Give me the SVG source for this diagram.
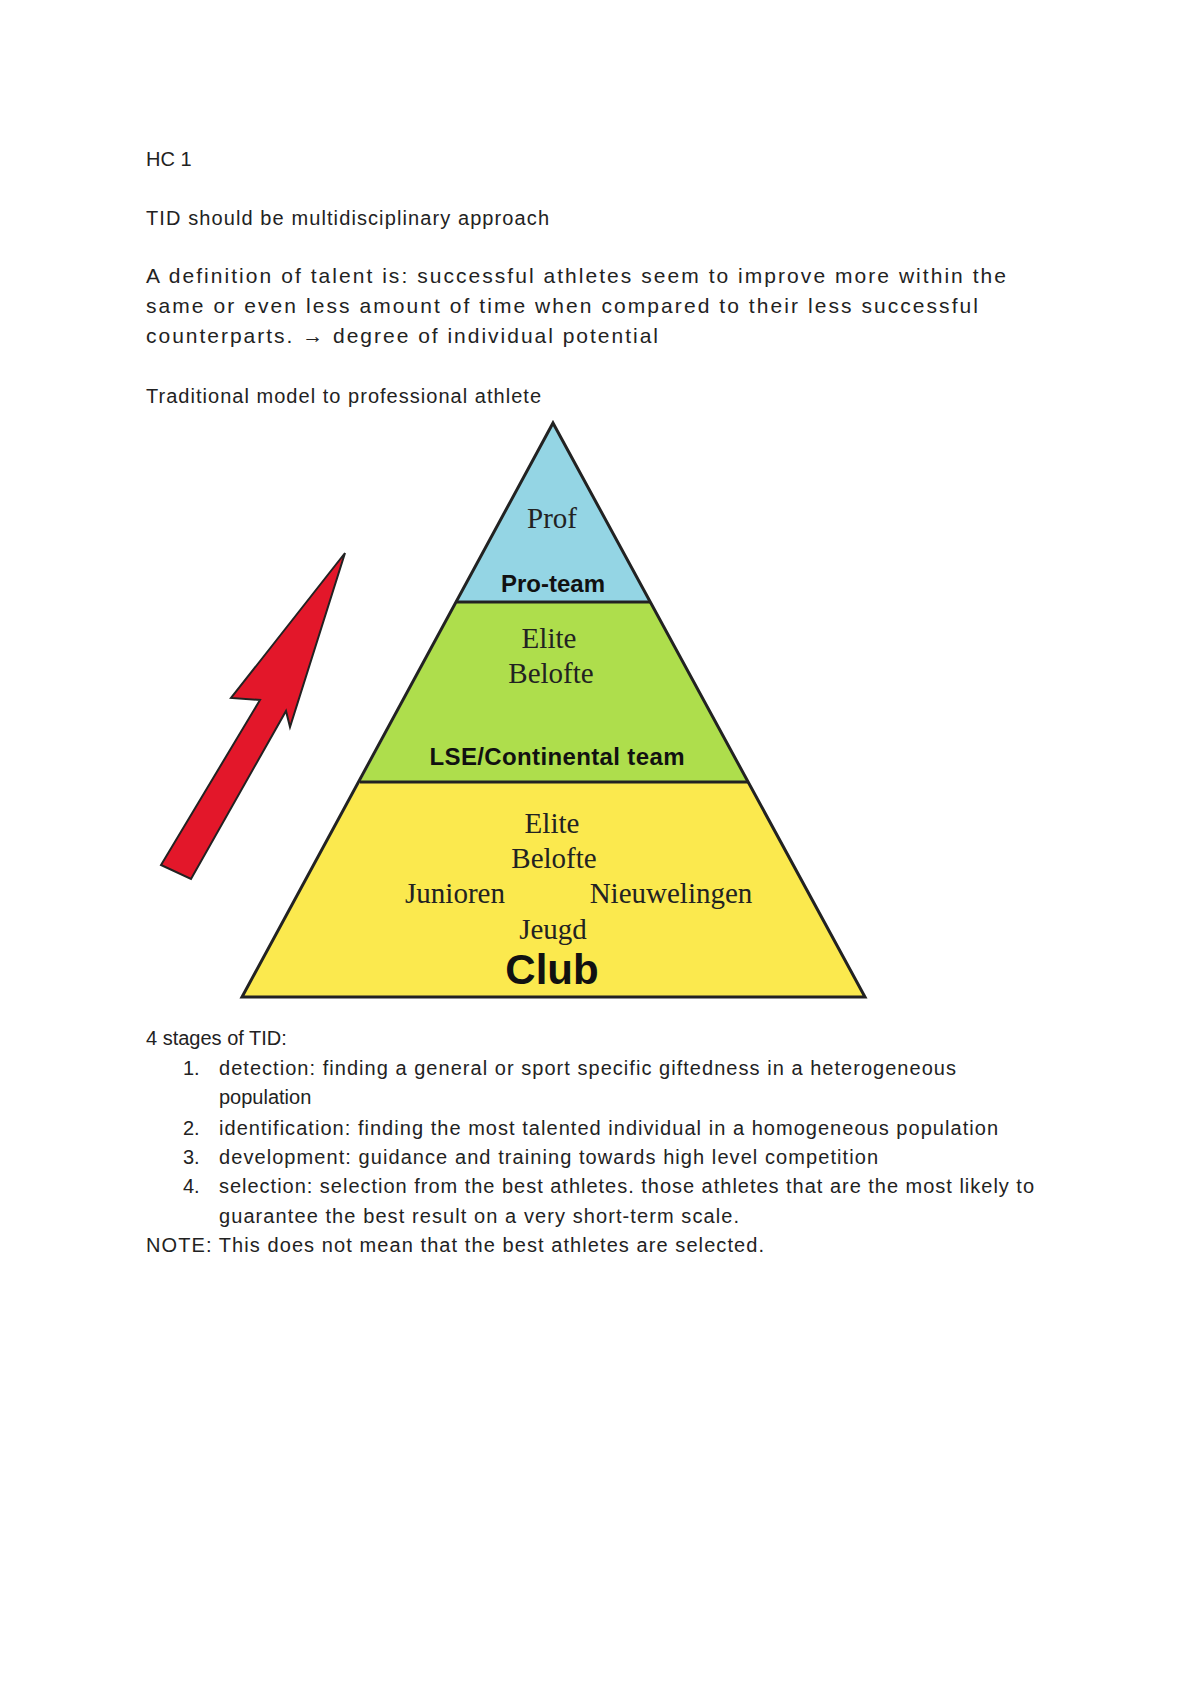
<svg xmlns="http://www.w3.org/2000/svg" width="1200" height="1698" viewBox="0 0 1200 1698">
<style>
.t{font-family:"Liberation Sans",Arial,sans-serif;font-size:20px;fill:#222}
.d{font-family:"Liberation Sans",Arial,sans-serif;font-size:21px;fill:#222}
.s{font-family:"Liberation Serif","Times New Roman",serif;font-size:29px;fill:#222;text-anchor:middle}
.b{font-family:"Liberation Sans",Arial,sans-serif;font-weight:bold;font-size:24px;fill:#111;text-anchor:middle}
.edge{stroke:#222;stroke-width:3;fill:none}
</style>
<rect width="1200" height="1698" fill="#fff"/>
<g id="text">
<text class="t" x="146" y="166">HC 1</text>
<text class="t" x="146" y="225" textLength="403">TID should be multidisciplinary approach</text>
<text class="d" x="146" y="283" textLength="860">A definition of talent is: successful athletes seem to improve more within the</text>
<text class="d" x="146" y="313" textLength="832">same or even less amount of time when compared to their less successful</text>
<text class="d" x="146" y="343" textLength="512">counterparts. → degree of individual potential</text>
<text class="t" x="146" y="403" textLength="395">Traditional model to professional athlete</text>
</g>
<g id="pyramid">
<polygon id="level-club" points="360,782 748,782 865,997 242,997" fill="#fbe94e"/>
<polygon id="level-lse" points="457,602 651,602 748,782 360,782" fill="#aede4c"/>
<polygon id="level-prof" points="553,423 651,602 457,602" fill="#94d5e4"/>
<polygon class="edge" points="553,423 865,997 242,997"/>
<line class="edge" x1="457" y1="602" x2="651" y2="602"/>
<line class="edge" x1="360" y1="782" x2="748" y2="782"/>
<text class="s" x="552" y="528">Prof</text>
<text class="b" x="553" y="592">Pro-team</text>
<text class="s" x="549" y="648">Elite</text>
<text class="s" x="551" y="683">Belofte</text>
<text class="b" x="557" y="765" textLength="255">LSE/Continental team</text>
<text class="s" x="552" y="833">Elite</text>
<text class="s" x="554" y="868">Belofte</text>
<text class="s" x="455" y="903">Junioren</text>
<text class="s" x="671" y="903">Nieuwelingen</text>
<text class="s" x="553" y="939">Jeugd</text>
<text class="b" x="552" y="984" style="font-size:42px">Club</text>
</g>
<g id="arrow">
<polygon points="345,553 290,727 286,711 191,879 161,865 260,700 231,698" fill="#e3172a" stroke="#222" stroke-width="2"/>
</g>
<g id="list">
<text class="t" x="146" y="1045">4 stages of TID:</text>
<text class="t" x="183" y="1075">1.</text><text class="t" x="219" y="1075" textLength="737">detection: finding a general or sport specific giftedness in a heterogeneous</text>
<text class="t" x="219" y="1104">population</text>
<text class="t" x="183" y="1135">2.</text><text class="t" x="219" y="1135" textLength="779">identification: finding the most talented individual in a homogeneous population</text>
<text class="t" x="183" y="1164">3.</text><text class="t" x="219" y="1164" textLength="659">development: guidance and training towards high level competition</text>
<text class="t" x="183" y="1193">4.</text><text class="t" x="219" y="1193" textLength="815">selection: selection from the best athletes. those athletes that are the most likely to</text>
<text class="t" x="219" y="1223" textLength="520">guarantee the best result on a very short-term scale.</text>
<text class="t" x="146" y="1252" textLength="618">NOTE: This does not mean that the best athletes are selected.</text>
</g>
</svg>
